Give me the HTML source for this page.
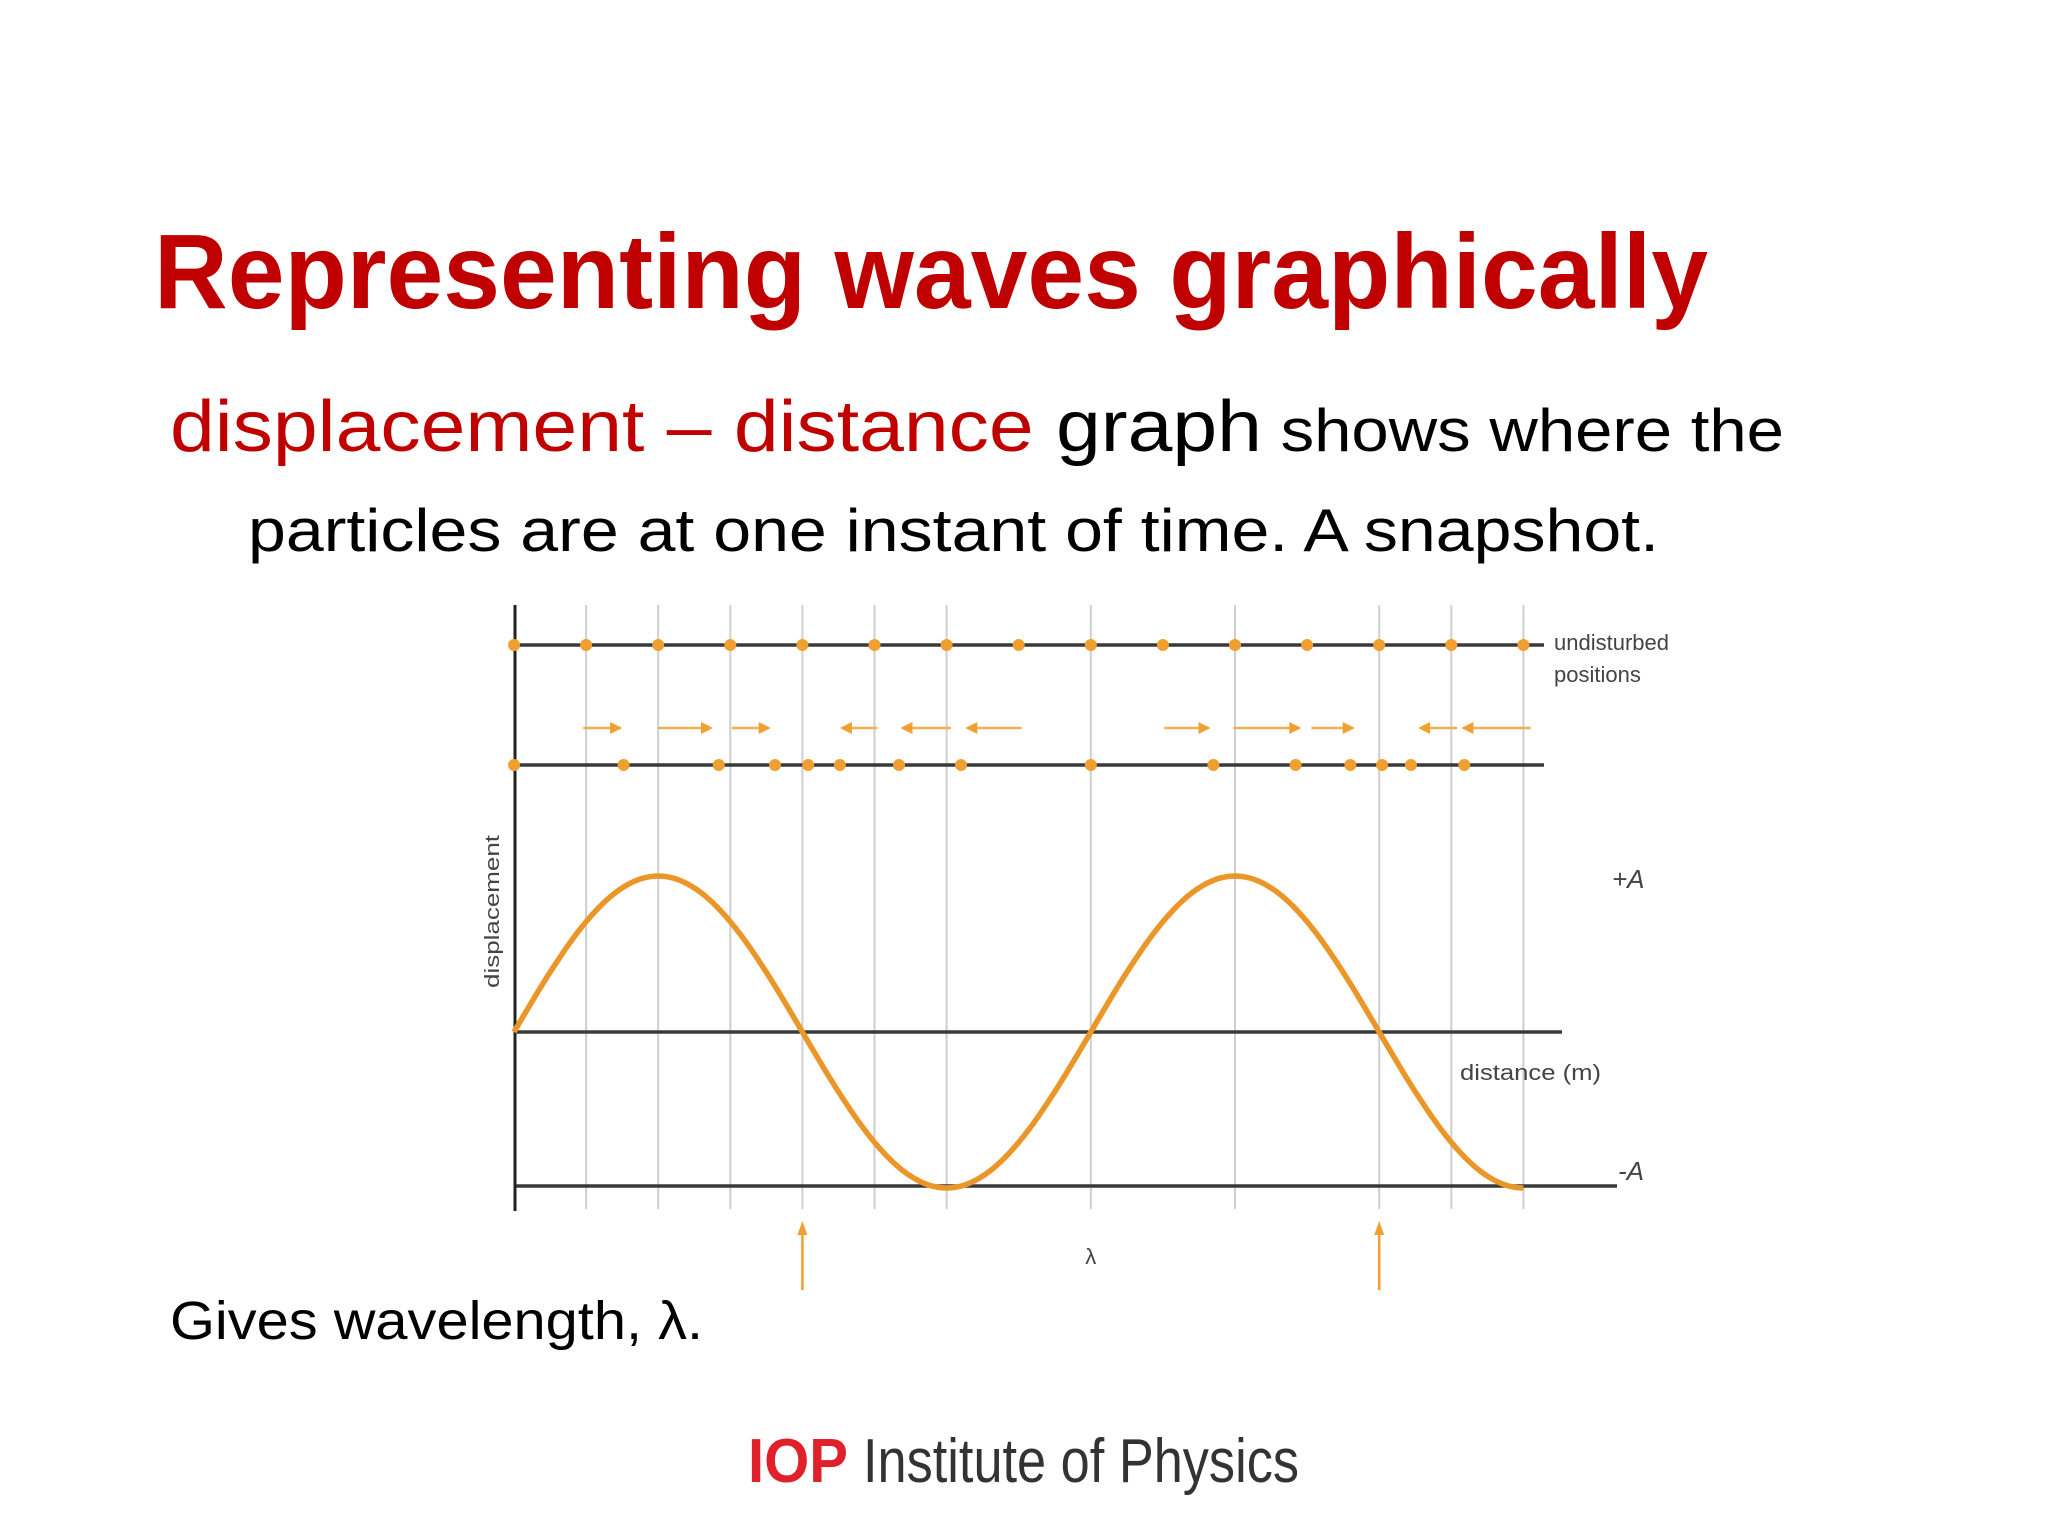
<!DOCTYPE html>
<html><head><meta charset="utf-8"><style>
html,body{margin:0;padding:0;background:#fff;}
svg{display:block;font-family:"Liberation Sans",Arial,sans-serif;}
</style></head><body>
<svg id="slide" width="2048" height="1536" viewBox="0 0 2048 1536">
<text x="154" y="308" font-size="106" font-weight="bold" fill="#c00000" textLength="1554" lengthAdjust="spacingAndGlyphs">Representing waves graphically</text>
<text x="170" y="451" textLength="1614" lengthAdjust="spacingAndGlyphs"><tspan font-size="72" fill="#c00000">displacement – distance</tspan><tspan font-size="72" fill="#000"> graph</tspan><tspan font-size="60" fill="#000"> shows where the</tspan></text>
<text x="248" y="551" font-size="60" fill="#000" textLength="1411" lengthAdjust="spacingAndGlyphs">particles are at one instant of time. A snapshot.</text>
<text x="170" y="1339" font-size="54" fill="#000" textLength="533" lengthAdjust="spacingAndGlyphs">Gives wavelength, λ.</text>
<text x="748" y="1482" font-size="62" font-weight="bold" fill="#e0202a" textLength="100" lengthAdjust="spacingAndGlyphs">IOP</text>
<text x="863" y="1482" font-size="62" fill="#333" textLength="436" lengthAdjust="spacingAndGlyphs">Institute of Physics</text>
<g id="chart"></g>
</svg>
<script>
const gridUnits = [0.5,1,1.5,2,2.5,3,4,5,6,6.5,7];
const undisturbedDots = [0,0.5,1,1.5,2,2.5,3,3.5,4,4.5,5,5.5,6,6.5,7];
const displacedDots = [0,0.76,1.42,1.81,2.04,2.26,2.67,3.1,4,4.85,5.42,5.8,6.02,6.22,6.59];
const arrowStarts = [0.48,1.0,1.51,2.52,3.03,3.52,4.51,4.99,5.53,6.54,7.05];
const arrowEnds = [0.75,1.38,1.78,2.26,2.68,3.13,4.83,5.46,5.83,6.27,6.57];
const waveKeyX = [0,1,2,3,4,5,6,7];
const waveKeyY = [0,1,0,-1,0,1,0,-1];
const wavelengthMarks = [2,6];

const NS='http://www.w3.org/2000/svg';
const g=document.getElementById('chart');
const X=u=>514+u*144.2;
const Y=v=>1032-v*156;
function mk(tag,attrs){const e=document.createElementNS(NS,tag);for(const k in attrs)e.setAttribute(k,attrs[k]);g.appendChild(e);return e;}

gridUnits.forEach(u=>{
  const l=mk('line',{x1:X(u),x2:X(u),y1:605,y2:1209,stroke:'#cfcfcf','stroke-width':2});
  
  
});
[[645,1544,'undisturbed-line'],[765,1544,'displaced-line'],[1032,1562,'zero-axis'],[1186,1617,'minus-a-line']].forEach(a=>{
  const l=mk('line',{x1:514,x2:a[1],y1:a[0],y2:a[0],stroke:'#3a3a3a','stroke-width':3.5});
  
  
});
const ya=mk('line',{x1:515,x2:515,y1:605,y2:1211,stroke:'#222','stroke-width':3});



undisturbedDots.forEach(u=>{
  const c=mk('circle',{cx:X(u),cy:645,r:6,fill:'#f0a030'});
  
  
});
displacedDots.forEach(u=>{
  const c=mk('circle',{cx:X(u),cy:765,r:6,fill:'#f0a030'});
  
  
});
arrowStarts.forEach((s,i)=>{
  const x1=X(s),x2=X(arrowEnds[i]),d=x2>x1?1:-1;
  const l=mk('line',{x1:x1,x2:x2-d*8,y1:728,y2:728,stroke:'#f0b050','stroke-width':2.5});
  
  
  const p=mk('polygon',{points:`${x2},728 ${x2-d*12},722 ${x2-d*12},734`,fill:'#f0a030'});
  
  
});
let dstr='';
for(let i=0;i<waveKeyX.length-1;i++){
  const y0=waveKeyY[i],y1=waveKeyY[i+1];
  for(let k=0;k<=30;k++){
    const t=k/30,u=waveKeyX[i]+(waveKeyX[i+1]-waveKeyX[i])*t;
    const v=y0*Math.cos(Math.PI*t/2)+y1*Math.sin(Math.PI*t/2);
    dstr+=(dstr?'L':'M')+X(u).toFixed(1)+','+Y(v).toFixed(1);
  }
}
const w=mk('path',{d:dstr,fill:'none',stroke:'#eb9628','stroke-width':5.5,'stroke-linejoin':'round'});


wavelengthMarks.forEach(u=>{
  const l=mk('line',{x1:X(u),x2:X(u),y1:1290,y2:1232,stroke:'#f0a030','stroke-width':2.5});
  
  
  const p=mk('polygon',{points:`${X(u)},1221 ${X(u)-5},1235 ${X(u)+5},1235`,fill:'#f0a030'});
  
  
});
function txt(x,y,s,size,name,extra){const t=mk('text',Object.assign({x:x,y:y,'font-size':size,fill:'#444'},extra||{}));t.textContent=s;return t;}
let t;
t=txt(X(4),1264,'λ',22,'',{'text-anchor':'middle'});


t=txt(1554,650,'undisturbed',22,'');


t=txt(1554,682,'positions',22,'');


t=txt(1612,888,'+A',26,'',{'font-style':'italic'});


t=txt(1618,1180,'-A',26,'',{'font-style':'italic'});


t=txt(1460,1080,'distance (m)',22,'',{textLength:141,lengthAdjust:'spacingAndGlyphs'});


t=txt(0,0,'displacement',20,'',{transform:'translate(499,988) rotate(-90)',textLength:153,lengthAdjust:'spacingAndGlyphs'});


</script>
</body></html>
